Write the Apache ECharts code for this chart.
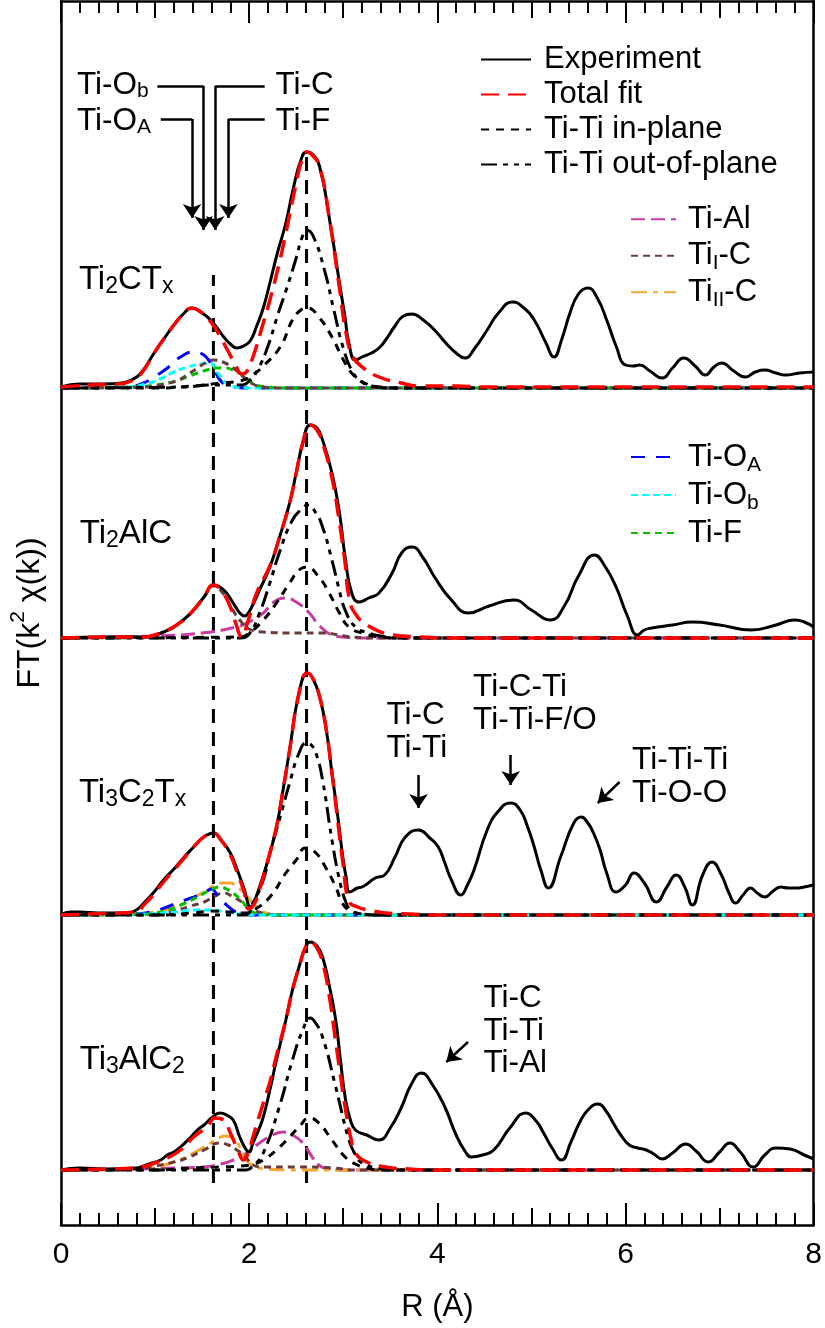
<!DOCTYPE html>
<html>
<head>
<meta charset="utf-8">
<script src="https://cdn.jsdelivr.net/npm/echarts@6/dist/echarts.min.js"></script>
<style>
  html, body { margin: 0; padding: 0; background: #fff; }
  #main { width: 825px; height: 1328px; }
</style>
</head>
<body>
<div id="main"></div>
<script>
const FONT = 'Liberation Sans, Arial, Helvetica, sans-serif';

// vertical offset of each stacked spectrum (arbitrary units)
const offsets = [837, 587, 310, 55];

// ---- Ti2CTx ----  [R (Å), FT magnitude above its own baseline]
const ti2ctxExp = [[0,1],[0.2,4],[0.45,4],[0.65,5],[0.75,8],[0.85,15],[0.99,35],[1.1,50],[1.2,63],[1.3,74],[1.39,80],[1.5,75],[1.59,68],[1.66,60],[1.73,51],[1.8,44],[1.87,40],[1.94,42],[2.01,47],[2.08,62],[2.15,80],[2.22,105],[2.3,135],[2.39,165],[2.47,200],[2.55,228],[2.61,236],[2.67,234],[2.75,221],[2.85,171],[2.96,105],[3.02,70],[3.06,45],[3.13,28],[3.2,31],[3.3,35],[3.38,40],[3.45,48],[3.55,62],[3.64,72],[3.73,74],[3.85,68],[3.97,58],[4.1,44],[4.2,35],[4.29,30],[4.4,40],[4.53,58],[4.65,75],[4.8,86],[4.92,80],[5.03,68],[5.15,46],[5.24,31],[5.32,48],[5.41,75],[5.5,94],[5.6,100],[5.7,90],[5.8,68],[5.9,42],[6.0,23],[6.08,22],[6.15,23],[6.26,17],[6.39,10],[6.5,20],[6.62,30],[6.74,22],[6.85,13],[6.94,21],[7.02,25],[7.15,17],[7.27,11],[7.38,16],[7.48,18],[7.6,15],[7.7,13],[7.85,15],[8,16]];
const ti2ctxFit = [[0,1],[0.3,3],[0.6,4],[0.75,7],[0.85,14],[0.99,35],[1.1,50],[1.2,63],[1.3,74],[1.39,80],[1.5,75],[1.6,65],[1.7,50],[1.78,36],[1.85,24],[1.92,14],[1.97,16],[2.04,31],[2.15,65],[2.22,88],[2.32,125],[2.39,155],[2.5,205],[2.56,228],[2.61,236],[2.67,233],[2.75,221],[2.85,171],[2.96,100],[3.03,55],[3.1,32],[3.2,21],[3.38,11],[3.62,5],[3.8,2],[4.2,2],[4.5,1],[8,1]];
const ti2ctxOut = [[0,0],[1.3,1],[1.6,3],[1.9,3],[2.0,7],[2.1,20],[2.2,42],[2.3,72],[2.4,100],[2.5,130],[2.56,150],[2.61,158],[2.68,152],[2.8,118],[2.9,78],[3.0,40],[3.1,16],[3.2,6],[3.3,2],[3.5,0],[8,0]];
const ti2ctxIn = [[0,0],[1.0,0],[1.4,2],[1.7,5],[1.9,7],[2.05,14],[2.15,22],[2.33,41],[2.46,68],[2.55,78],[2.62,80],[2.74,71],[2.88,51],[3.02,25],[3.13,11],[3.25,4],[3.4,1],[3.6,0],[8,0]];
const ti2ctxOA = [[0,0],[0.7,1],[0.85,4],[0.99,11],[1.13,20],[1.27,31],[1.41,36],[1.5,34],[1.56,29],[1.62,20],[1.69,8],[1.76,3],[1.85,1],[2,0],[8,0]];
const ti2ctxOb = [[0,0],[0.7,1],[0.9,4],[1.05,9],[1.2,16],[1.35,21],[1.5,24],[1.58,25],[1.66,16],[1.74,6],[1.85,1],[2,0],[8,0]];
const ti2ctxF = [[0,0],[0.8,1],[1.0,3],[1.19,6],[1.34,11],[1.45,15],[1.55,18],[1.65,20],[1.73,20],[1.87,16],[1.97,10],[2.07,3],[2.2,1],[2.4,0],[8,0]];
const ti2ctxTiIC = [[0,0],[0.9,1],[1.1,4],[1.25,8],[1.34,13],[1.45,20],[1.55,26],[1.62,28],[1.72,26],[1.83,20],[1.94,11],[2.04,4],[2.15,1],[2.3,0],[8,0]];

// ---- Ti2AlC ----
const ti2alcExp = [[0,0],[0.5,1],[0.9,1],[0.96,2],[1.09,6],[1.23,13],[1.38,25],[1.52,41],[1.62,53],[1.73,48],[1.83,35],[1.9,25],[1.95,22],[2.01,28],[2.11,48],[2.22,71],[2.32,100],[2.43,135],[2.5,165],[2.57,195],[2.65,213],[2.72,210],[2.78,198],[2.88,165],[2.96,125],[3.02,81],[3.09,45],[3.17,36],[3.27,40],[3.38,45],[3.52,65],[3.62,85],[3.73,91],[3.85,80],[3.97,61],[4.15,38],[4.33,25],[4.55,32],[4.81,38],[5.0,28],[5.2,18],[5.35,32],[5.5,62],[5.67,83],[5.78,72],[5.9,51],[6.02,22],[6.13,3],[6.2,8],[6.28,10],[6.5,13],[6.71,16],[7.0,13],[7.34,8],[7.6,13],[7.8,18],[7.9,16],[8,11]];
const ti2alcFit = [[0,0],[0.5,1],[0.9,1],[0.96,2],[1.09,6],[1.23,13],[1.38,25],[1.52,41],[1.62,53],[1.72,45],[1.8,31],[1.86,14],[1.92,1],[1.99,18],[2.08,45],[2.22,72],[2.32,100],[2.43,135],[2.5,165],[2.57,195],[2.65,213],[2.72,208],[2.78,195],[2.88,160],[2.96,115],[3.02,75],[3.06,41],[3.13,24],[3.27,12],[3.48,4],[3.8,1],[4.2,0],[8,0]];
const ti2alcOut = [[0,0],[1.9,0],[2.0,4],[2.11,25],[2.22,55],[2.32,85],[2.46,118],[2.57,130],[2.62,133],[2.71,125],[2.78,111],[2.88,78],[2.95,51],[3.02,28],[3.13,11],[3.27,5],[3.4,2],[3.6,0],[8,0]];
const ti2alcIn = [[0,0],[1.9,1],[2.0,5],[2.15,18],[2.29,35],[2.43,55],[2.53,68],[2.61,71],[2.74,61],[2.85,45],[2.96,25],[3.06,11],[3.2,5],[3.4,1],[3.6,0],[8,0]];
const ti2alcAl = [[0,0],[0.5,1],[1.0,2],[1.5,5],[1.86,11],[2.0,16],[2.15,25],[2.25,35],[2.38,40],[2.5,36],[2.64,25],[2.74,13],[2.88,3],[3.0,1],[3.2,0],[8,0]];
const ti2alcTiIC = [[0,0],[0.9,1],[0.96,2],[1.09,6],[1.23,13],[1.38,25],[1.52,41],[1.62,52],[1.72,45],[1.8,32],[1.9,18],[2.0,9],[2.15,6],[2.5,5],[2.8,5],[2.95,3],[3.1,1],[3.3,0],[8,0]];

// ---- Ti3C2Tx ----
const ti3c2txExp = [[0,0],[0.1,3],[0.2,3],[0.4,2],[0.7,2],[0.8,5],[0.88,12],[0.98,22],[1.09,35],[1.2,46],[1.31,58],[1.4,67],[1.48,75],[1.55,80],[1.62,82],[1.7,75],[1.8,62],[1.87,46],[1.94,28],[2.02,8],[2.06,15],[2.11,28],[2.2,55],[2.29,88],[2.36,125],[2.43,165],[2.53,222],[2.62,242],[2.68,236],[2.75,218],[2.82,185],[2.88,142],[2.94,100],[2.99,62],[3.03,38],[3.07,23],[3.15,27],[3.2,28],[3.34,37],[3.44,40],[3.55,58],[3.66,78],[3.8,85],[3.92,77],[4.01,68],[4.08,52],[4.15,35],[4.25,20],[4.32,30],[4.39,45],[4.53,85],[4.65,104],[4.78,112],[4.88,105],[4.96,88],[5.03,68],[5.1,45],[5.18,27],[5.31,58],[5.45,92],[5.53,98],[5.6,92],[5.66,82],[5.73,65],[5.8,42],[5.9,23],[6.0,30],[6.09,42],[6.2,32],[6.33,13],[6.44,28],[6.54,40],[6.63,28],[6.71,10],[6.82,40],[6.92,53],[7.02,40],[7.1,22],[7.17,12],[7.25,20],[7.33,27],[7.4,22],[7.48,18],[7.57,24],[7.65,28],[7.73,27],[7.81,27],[7.9,28],[8,30]];
const ti3c2txFit = [[0,0],[0.3,1],[0.8,3],[0.88,10],[0.98,20],[1.09,33],[1.2,45],[1.31,57],[1.4,67],[1.48,75],[1.55,80],[1.62,82],[1.7,75],[1.8,60],[1.87,43],[1.94,25],[2.0,6],[2.06,12],[2.11,25],[2.2,55],[2.29,88],[2.36,125],[2.43,165],[2.53,222],[2.62,242],[2.68,236],[2.75,218],[2.82,185],[2.88,142],[2.94,95],[3.0,50],[3.06,14],[3.15,8],[3.27,5],[3.45,2],[3.7,1],[4.0,0],[8,0]];
const ti3c2txOut = [[0,0],[1.95,0],[2.04,12],[2.15,35],[2.22,62],[2.32,95],[2.43,132],[2.53,162],[2.61,172],[2.66,170],[2.71,162],[2.78,135],[2.88,75],[2.96,35],[3.02,15],[3.08,5],[3.2,1],[3.4,0],[8,0]];
const ti3c2txIn = [[0,0],[1.0,0],[1.4,2],[1.6,4],[1.8,3],[1.95,2],[2.05,5],[2.22,18],[2.39,42],[2.5,55],[2.6,67],[2.71,62],[2.81,48],[2.92,28],[2.99,12],[3.06,5],[3.2,1],[3.4,0],[8,0]];
const ti3c2txOA = [[0,0],[0.8,1],[0.95,3],[1.1,7],[1.23,12],[1.38,17],[1.52,22],[1.6,26],[1.66,20],[1.76,10],[1.84,4],[1.92,1],[2.0,0],[8,0]];
const ti3c2txOb = [[0,0],[0.9,1],[1.2,3],[1.45,5],[1.6,5],[1.75,3],[1.9,1],[2.1,0],[8,0]];
const ti3c2txF = [[0,0],[0.9,1],[1.1,4],[1.3,11],[1.45,18],[1.59,25],[1.69,28],[1.76,26],[1.83,22],[1.94,12],[2.0,5],[2.1,1],[2.2,0],[8,0]];
const ti3c2txTiIC = [[0,0],[1.0,1],[1.2,4],[1.38,9],[1.52,13],[1.62,18],[1.73,22],[1.83,18],[1.94,12],[2.0,8],[2.1,3],[2.2,1],[2.4,0],[8,0]];
const ti3c2txTiIIC = [[0,0],[0.8,1],[1.0,3],[1.15,6],[1.31,12],[1.42,18],[1.52,23],[1.62,29],[1.72,32],[1.8,32],[1.87,28],[1.94,23],[2.01,15],[2.08,8],[2.18,2],[2.3,0],[8,0]];

// ---- Ti3AlC2 ----
const ti3alc2Exp = [[0,0],[0.2,2],[0.5,1],[0.8,2],[0.88,4],[0.97,7],[1.06,10],[1.13,15],[1.2,18],[1.27,23],[1.38,33],[1.45,40],[1.52,45],[1.6,52],[1.69,57],[1.76,55],[1.83,50],[1.9,33],[1.97,20],[2.0,18],[2.04,27],[2.1,40],[2.15,53],[2.22,80],[2.29,110],[2.39,150],[2.46,180],[2.53,203],[2.6,223],[2.65,228],[2.72,224],[2.78,213],[2.85,185],[2.92,150],[2.97,110],[3.02,73],[3.07,52],[3.13,40],[3.25,35],[3.38,30],[3.5,42],[3.62,63],[3.72,85],[3.83,97],[3.95,85],[4.08,63],[4.2,35],[4.3,18],[4.36,13],[4.48,15],[4.6,20],[4.77,42],[4.94,57],[5.05,49],[5.13,37],[5.22,22],[5.32,10],[5.42,28],[5.51,47],[5.6,60],[5.71,66],[5.8,58],[5.87,47],[5.95,35],[6.04,25],[6.13,22],[6.22,20],[6.3,16],[6.39,11],[6.5,17],[6.64,26],[6.75,19],[6.88,8],[7.0,18],[7.11,27],[7.22,18],[7.36,3],[7.48,15],[7.6,22],[7.75,21],[7.9,15],[8,11]];
const ti3alc2Fit = [[0,0],[0.5,1],[0.85,3],[1.0,7],[1.13,12],[1.27,20],[1.41,33],[1.55,43],[1.64,52],[1.73,50],[1.8,37],[1.88,20],[1.94,10],[1.99,17],[2.04,33],[2.15,67],[2.22,88],[2.3,118],[2.39,150],[2.46,180],[2.53,203],[2.6,223],[2.65,228],[2.72,222],[2.78,208],[2.85,175],[2.92,128],[2.97,95],[3.02,63],[3.08,32],[3.13,17],[3.25,8],[3.45,3],[3.7,1],[4.0,0],[8,0]];
const ti3alc2Out = [[0,0],[1.95,0],[2.05,5],[2.15,17],[2.32,63],[2.46,110],[2.57,140],[2.65,152],[2.7,148],[2.78,133],[2.92,83],[3.06,30],[3.13,15],[3.2,7],[3.35,2],[3.5,0],[8,0]];
const ti3alc2In = [[0,0],[1.0,0],[1.4,2],[1.7,3],[1.9,4],[2.05,6],[2.15,10],[2.29,20],[2.43,33],[2.53,43],[2.64,52],[2.74,47],[2.88,30],[3.02,13],[3.13,6],[3.25,2],[3.4,0],[8,0]];
const ti3alc2Al = [[0,0],[0.8,1],[1.2,2],[1.5,3],[1.7,6],[1.83,10],[1.97,17],[2.11,27],[2.25,35],[2.36,38],[2.46,35],[2.57,27],[2.67,13],[2.74,5],[2.85,1],[3.0,0],[8,0]];
const ti3alc2TiIC = [[0,0],[0.8,1],[1.0,4],[1.2,8],[1.34,12],[1.52,20],[1.69,27],[1.78,25],[1.87,20],[1.97,12],[2.04,5],[2.15,3],[2.5,3],[2.9,2],[3.1,0],[8,0]];
const ti3alc2TiIIC = [[0,0],[0.8,1],[1.0,3],[1.2,8],[1.41,17],[1.59,27],[1.68,32],[1.74,34],[1.83,32],[1.9,23],[1.97,10],[2.08,3],[2.2,1],[2.4,0],[8,0]];

// guide lines (R positions) and their vertical extent
const guideR = [1.62, 2.61];
const guideTop = [950, 1072];
const guideBottom = 42;

// labels
const panelNames = ['Ti{s|2}CT{s|x}', 'Ti{s|2}AlC', 'Ti{s|3}C{s|2}T{s|x}', 'Ti{s|3}AlC{s|2}'];
const panelNamePos = [[0.19, 945], [0.2, 691], [0.19, 432], [0.2, 165]];
const noteTexts = ['Ti-O{s|b}', 'Ti-O{s|A}', 'Ti-C', 'Ti-F', 'Ti-C\nTi-Ti', 'Ti-C-Ti\nTi-Ti-F/O', 'Ti-Ti-Ti\nTi-O-O', 'Ti-C\nTi-Ti\nTi-Al'];
const notePos = [[0.17, 1140], [0.17, 1104], [2.28, 1140], [2.28, 1104], [3.46, 493], [4.38, 521], [6.07, 448], [4.49, 194]];
const arrowStems = [[[1.024, 1139], [1.516, 1139]], [[1.06, 1106], [1.393, 1106]], [[2.165, 1139], [1.639, 1139]], [[2.165, 1106], [1.779, 1106]]];
const arrowHeads = [[[1.516, 1139], [1.516, 995]], [[1.393, 1106], [1.393, 1007]], [[1.639, 1139], [1.639, 995]], [[1.779, 1106], [1.779, 1007]],
                    [[3.8, 450], [3.8, 417]], [[4.78, 470], [4.78, 440]], [[5.937, 443], [5.705, 422]], [[4.326, 183], [4.095, 163]]];

const lineStyles = {
    'Experiment': { color: '#000000', width: 3, type: 'solid' },
    'Total fit': { color: '#ff0000', width: 3.5, type: [18, 9] },
    'Ti-Ti in-plane': { color: '#000000', width: 3, type: [8, 7] },
    'Ti-Ti out-of-plane': { color: '#000000', width: 3, type: [16, 6, 5, 6, 5, 6] },
    'Ti-Al': { color: '#c83ca0', width: 3, type: [14, 6] },
    'TiI-C': { color: '#6a3d3d', width: 3, type: [7, 5] },
    'TiII-C': { color: '#f7a630', width: 3, type: [16, 6, 5, 6] },
    'Ti-OA': { color: '#0000ff', width: 3, type: [14, 11] },
    'Ti-Ob': { color: '#00ffff', width: 3, type: [7, 4] },
    'Ti-F': { color: '#00c000', width: 3, type: [7, 5] }
};
const legendText = {
    'Experiment': 'Experiment', 'Total fit': 'Total fit',
    'Ti-Ti in-plane': 'Ti-Ti in-plane', 'Ti-Ti out-of-plane': 'Ti-Ti out-of-plane',
    'Ti-Al': 'Ti-Al', 'TiI-C': 'Ti{s|I}-C', 'TiII-C': 'Ti{s|II}-C',
    'Ti-OA': 'Ti-O{s|A}', 'Ti-Ob': 'Ti-O{s|b}', 'Ti-F': 'Ti-F'
};

const panels = [
    { exp: ti2ctxExp, fit: ti2ctxFit, inPl: ti2ctxIn, outPl: ti2ctxOut,
      parts: [['Ti-OA', ti2ctxOA], ['Ti-Ob', ti2ctxOb], ['Ti-F', ti2ctxF], ['TiI-C', ti2ctxTiIC]] },
    { exp: ti2alcExp, fit: ti2alcFit, inPl: ti2alcIn, outPl: ti2alcOut,
      parts: [['Ti-Al', ti2alcAl], ['TiI-C', ti2alcTiIC]] },
    { exp: ti3c2txExp, fit: ti3c2txFit, inPl: ti3c2txIn, outPl: ti3c2txOut,
      parts: [['TiII-C', ti3c2txTiIIC], ['TiI-C', ti3c2txTiIC], ['Ti-OA', ti3c2txOA], ['Ti-F', ti3c2txF], ['Ti-Ob', ti3c2txOb]] },
    { exp: ti3alc2Exp, fit: ti3alc2Fit, inPl: ti3alc2In, outPl: ti3alc2Out,
      parts: [['Ti-Al', ti3alc2Al], ['TiII-C', ti3alc2TiIIC], ['TiI-C', ti3alc2TiIC]] }
];

function curve(name, pts, off, z) {
    const s = lineStyles[name];
    return {
        name: name, type: 'line', z: z,
        data: pts.map(p => [p[0], p[1] + off]),
        symbol: 'none', showSymbol: false,
        smooth: 0.5,
        lineStyle: { color: s.color, width: s.width, type: s.type },
        itemStyle: { color: s.color },
        emphasis: { disabled: true }, silent: true
    };
}

let series = [];
panels.forEach((p, i) => {
    const off = offsets[i];
    p.parts.forEach(part => series.push(curve(part[0], part[1], off, 2)));
    series.push(curve('Ti-Ti in-plane', p.inPl, off, 3));
    series.push(curve('Ti-Ti out-of-plane', p.outPl, off, 3));
    series.push(curve('Experiment', p.exp, off, 4));
    series.push(curve('Total fit', p.fit, off, 5));
});

// dashed guide lines
guideR.forEach((r, i) => {
    series.push({
        name: 'guide', type: 'line', z: 1, symbol: 'none', silent: true,
        data: [[r, guideBottom], [r, guideTop[i]]],
        lineStyle: { color: '#000', width: 3, type: [14, 9] }
    });
});

// arrows
series.push({
    name: 'stems', type: 'lines', coordinateSystem: 'cartesian2d', z: 6, silent: true,
    symbol: 'none',
    lineStyle: { color: '#000', width: 2.5, opacity: 1, curveness: 0 },
    data: arrowStems.map(c => ({ coords: c }))
});
series.push({
    name: 'arrows', type: 'lines', coordinateSystem: 'cartesian2d', z: 6, silent: true,
    symbol: ['none', 'arrow'], symbolSize: 14,
    lineStyle: { color: '#000', width: 2.5, opacity: 1, curveness: 0 },
    data: arrowHeads.map(c => ({ coords: c }))
});

// text labels
series.push({
    name: 'panelNames', type: 'scatter', symbolSize: 0, z: 7, silent: true,
    itemStyle: { opacity: 1 },
    data: panelNamePos.map((p, i) => ({ name: panelNames[i], value: p })),
    label: {
        show: true, position: 'right', distance: 0, color: '#000', opacity: 1,
        fontFamily: FONT, fontSize: 33, lineHeight: 36,
        formatter: p => p.name,
        rich: { s: { fontFamily: FONT, fontSize: 23, lineHeight: 8, verticalAlign: 'bottom', color: '#000' } }
    }
});
series.push({
    name: 'notes', type: 'scatter', symbolSize: 0, z: 7, silent: true,
    itemStyle: { opacity: 1 },
    data: notePos.map((p, i) => ({ name: noteTexts[i], value: p })),
    label: {
        show: true, position: 'right', distance: 0, color: '#000', opacity: 1,
        fontFamily: FONT, fontSize: 31.5, lineHeight: 32.5,
        formatter: p => p.name,
        rich: { s: { fontFamily: FONT, fontSize: 21, lineHeight: 5, verticalAlign: 'bottom', color: '#000' } }
    }
});

function legendBox(names, left, top, iconW, rowH, pad, subLH) {
    return {
        orient: 'vertical', left: left, top: top, padding: 0,
        itemWidth: iconW, itemHeight: 1, itemGap: 0, selectedMode: false,
        itemStyle: { opacity: 0 },
        data: names,
        formatter: n => legendText[n],
        textStyle: {
            fontFamily: FONT, fontSize: 31, color: '#000', lineHeight: rowH, padding: [0, 0, 0, pad],
            rich: { s: { fontFamily: FONT, fontSize: 21, lineHeight: subLH, verticalAlign: 'bottom', color: '#000' } }
        }
    };
}

const tickStyle = { color: '#000', width: 2 };
const xBase = { type: 'value', min: 0, max: 8, splitLine: { show: false }, minorSplitLine: { show: false } };

const option = {
    animation: false,
    backgroundColor: '#fff',
    textStyle: { fontFamily: FONT },
    grid: { left: 56, right: 9, top: 1, bottom: 103 },
    legend: [
        legendBox(['Experiment', 'Total fit', 'Ti-Ti in-plane', 'Ti-Ti out-of-plane'], 480, 42, 50, 35, 8, 9),
        legendBox(['Ti-Al', 'TiI-C', 'TiII-C'], 630, 201, 45, 36.5, 7, 9.5),
        legendBox(['Ti-OA', 'Ti-Ob', 'Ti-F'], 630, 438, 45, 38, 7, 11)
    ],
    xAxis: [
        Object.assign({}, xBase, {
            position: 'bottom', interval: 2,
            axisLine: { show: true, onZero: false, lineStyle: { color: '#000', width: 2.5 } },
            axisTick: { inside: true, length: 22, lineStyle: tickStyle },
            minorTick: { show: true, splitNumber: 10, length: 12, lineStyle: tickStyle },
            axisLabel: { color: '#000', fontFamily: FONT, fontSize: 30, lineHeight: 30, margin: 15 },
            name: 'R (Å)', nameLocation: 'middle', nameGap: 66,
            nameTextStyle: { color: '#000', fontFamily: FONT, fontSize: 31, lineHeight: 32 }
        }),
        Object.assign({}, xBase, {
            position: 'bottom', interval: 1,
            axisLine: { show: false, onZero: false },
            axisTick: { inside: true, length: 17, lineStyle: tickStyle },
            axisLabel: { show: false }
        }),
        Object.assign({}, xBase, {
            position: 'top', interval: 2,
            axisLine: { show: true, onZero: false, lineStyle: { color: '#000', width: 2.5 } },
            axisTick: { inside: true, length: 22, lineStyle: tickStyle },
            minorTick: { show: true, splitNumber: 10, length: 12, lineStyle: tickStyle },
            axisLabel: { show: false }
        }),
        Object.assign({}, xBase, {
            position: 'top', interval: 1,
            axisLine: { show: false, onZero: false },
            axisTick: { inside: true, length: 17, lineStyle: tickStyle },
            axisLabel: { show: false }
        })
    ],
    yAxis: [
        {
            type: 'value', min: 0, max: 1224, position: 'left',
            axisLine: { show: true, onZero: false, lineStyle: { color: '#000', width: 2.5 } },
            axisTick: { show: false }, axisLabel: { show: false }, splitLine: { show: false },
            name: 'FT(k{sup|2} χ(k))', nameLocation: 'middle', nameRotate: 90, nameGap: 9,
            nameTextStyle: {
                color: '#000', fontFamily: FONT, fontSize: 32, lineHeight: 44,
                rich: { sup: { fontFamily: FONT, fontSize: 21, lineHeight: 8, verticalAlign: 'top', color: '#000' } }
            }
        },
        {
            type: 'value', min: 0, max: 1224, position: 'right',
            axisLine: { show: true, onZero: false, lineStyle: { color: '#000', width: 2.5 } },
            axisTick: { show: false }, axisLabel: { show: false }, splitLine: { show: false }
        }
    ],
    series: series
};

var chartDom = document.getElementById('main');
var myChart = echarts.init(chartDom, null, { renderer: 'canvas' });
myChart.setOption(option);
</script>
</body>
</html>
